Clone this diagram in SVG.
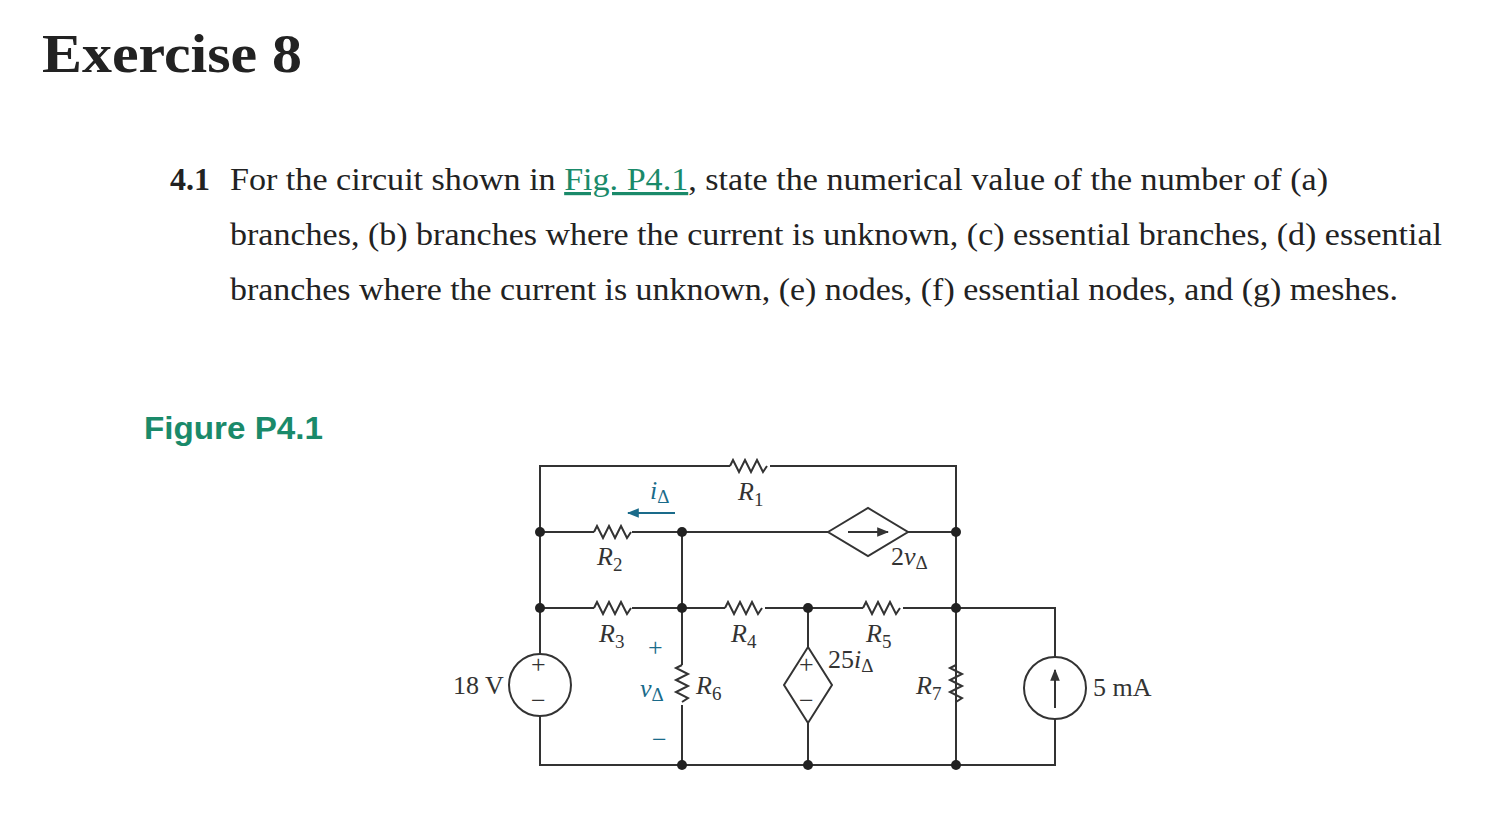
<svg xmlns="http://www.w3.org/2000/svg" width="1500" height="820" viewBox="0 0 1500 820">
<defs>
<style>
.w{fill:none;stroke:#333;stroke-width:2}
.t{font-family:"Liberation Serif",serif;fill:#222}
.lbl{font-family:"Liberation Serif",serif;font-size:26px;fill:#333}
.i{font-style:italic}
.b{font-family:"Liberation Serif",serif;font-size:19px}
.blue{fill:#1a6b8a}
</style>
<marker id="ah" viewBox="0 0 10 10" refX="9" refY="5" markerWidth="6" markerHeight="6" orient="auto"><path d="M0,1 L10,5 L0,9 z" fill="#333"/></marker>
<marker id="ahb" viewBox="0 0 10 10" refX="9" refY="5" markerWidth="6" markerHeight="6" orient="auto"><path d="M0,1 L10,5 L0,9 z" fill="#1a6b8a"/></marker>
</defs>
<rect width="1500" height="820" fill="#fff"/>
<text x="42" y="72" class="t" font-size="54" font-weight="bold" fill="#111" textLength="260" lengthAdjust="spacingAndGlyphs">Exercise 8</text>
<g class="t" font-size="32">
<text x="170" y="190" font-weight="bold">4.1</text>
<text x="230" y="190" textLength="1098" lengthAdjust="spacingAndGlyphs">For the circuit shown in <tspan fill="#1a8a6a" text-decoration="underline">Fig. P4.1</tspan>, state the numerical value of the number of (a)</text>
<text x="230" y="245" textLength="1212" lengthAdjust="spacingAndGlyphs">branches, (b) branches where the current is unknown, (c) essential branches, (d) essential</text>
<text x="230" y="300" textLength="1168" lengthAdjust="spacingAndGlyphs">branches where the current is unknown, (e) nodes, (f) essential nodes, and (g) meshes.</text>
</g>
<text x="144" y="439" font-family="Liberation Sans,sans-serif" font-weight="bold" font-size="32" fill="#1a8a6a" textLength="179" lengthAdjust="spacingAndGlyphs">Figure P4.1</text>
<g id="connectors">
<path class="w" d="M540,654 V466 H730 M770,466 H956 V765 M1055,719 V765 H540 V716"/>
<path class="w" d="M540,532 H594 M632,532 H828 M908,532 H956"/>
<path class="w" d="M540,608 H594 M632,608 H725 M765,608 H863 M903,608 H1055 V657"/>
<path class="w" d="M682,532 V665 M682,705 V765"/>
<path class="w" d="M808,608 V647 M808,723 V765"/>
<path class="w" d="M956,608 V665 M956,705 V765"/>
</g>
<g id="R1"><path class="w" d="M730,466 l3,-6 l6,12 l6,-12 l6,12 l6,-12 l6,12 l4,-6"/><text x="738" y="500" class="lbl i">R<tspan class="b" font-style="normal" dy="6">1</tspan></text></g>
<g id="R2"><path class="w" d="M594,532 l3,-6 l6,12 l6,-12 l6,12 l6,-12 l6,12 l4,-6"/><text x="597" y="565" class="lbl i">R<tspan class="b" font-style="normal" dy="6">2</tspan></text></g>
<g id="R3"><path class="w" d="M594,608 l3,-6 l6,12 l6,-12 l6,12 l6,-12 l6,12 l4,-6"/><text x="599" y="642" class="lbl i">R<tspan class="b" font-style="normal" dy="6">3</tspan></text></g>
<g id="R4"><path class="w" d="M725,608 l3,-6 l6,12 l6,-12 l6,12 l6,-12 l6,12 l4,-6"/><text x="731" y="642" class="lbl i">R<tspan class="b" font-style="normal" dy="6">4</tspan></text></g>
<g id="R5"><path class="w" d="M863,608 l3,-6 l6,12 l6,-12 l6,12 l6,-12 l6,12 l4,-6"/><text x="866" y="642" class="lbl i">R<tspan class="b" font-style="normal" dy="6">5</tspan></text></g>
<g id="R6"><path class="w" d="M682,665 l-6,3 l12,6 l-12,6 l12,6 l-12,6 l12,6 l-6,4"/><text x="696" y="694" class="lbl i">R<tspan class="b" font-style="normal" dy="6">6</tspan></text>
<text x="648" y="656" class="lbl blue">+</text><text x="640" y="697" class="lbl i blue">v<tspan class="b" font-style="normal" dy="4">Δ</tspan></text><text x="652" y="748" class="lbl blue">−</text></g>
<g id="R7"><path class="w" d="M956,665 l-6,3 l12,6 l-12,6 l12,6 l-12,6 l12,6 l-6,4"/><text x="916" y="694" class="lbl i">R<tspan class="b" font-style="normal" dy="6">7</tspan></text></g>
<g id="V18"><circle class="w" cx="540" cy="685" r="31"/><text x="531" y="673" class="lbl" font-size="22">+</text><text x="531" y="709" class="lbl" font-size="22">−</text><text x="453" y="694" class="lbl">18 V</text></g>
<g id="I5"><circle class="w" cx="1055" cy="688" r="31"/><path class="w" d="M1055,708 V670" marker-end="url(#ah)"/><text x="1093" y="696" class="lbl">5 mA</text></g>
<g id="CCCS"><path class="w" d="M828,532 L868,508 L908,532 L868,556 Z"/><path class="w" d="M848,532 H888" marker-end="url(#ah)"/><text x="891" y="565" class="lbl">2<tspan class="i">v</tspan><tspan class="b" dy="4">Δ</tspan></text></g>
<g id="CCVS"><path class="w" d="M808,647 L832,685 L808,723 L784,685 Z"/><text x="799" y="673" class="lbl" font-size="22">+</text><text x="799" y="709" class="lbl" font-size="22">−</text><text x="828" y="668" class="lbl">25<tspan class="i">i</tspan><tspan class="b" dy="4">Δ</tspan></text></g>
<g id="idelta"><path d="M675,513 H628" stroke="#1a6b8a" stroke-width="2" marker-end="url(#ahb)"/><text x="650" y="499" class="lbl i blue">i<tspan class="b" font-style="normal" dy="4">Δ</tspan></text></g>
<g id="dots" fill="#222">
<circle cx="540" cy="532" r="5"/><circle cx="540" cy="608" r="5"/><circle cx="682" cy="532" r="5"/><circle cx="682" cy="608" r="5"/><circle cx="682" cy="765" r="5"/><circle cx="808" cy="608" r="5"/><circle cx="808" cy="765" r="5"/><circle cx="956" cy="532" r="5"/><circle cx="956" cy="608" r="5"/><circle cx="956" cy="765" r="5"/>
</g>
</svg>
